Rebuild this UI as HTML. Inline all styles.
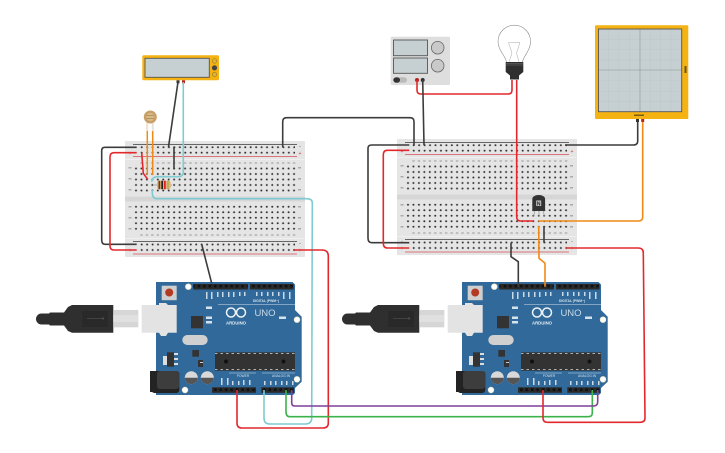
<!DOCTYPE html>
<html><head><meta charset="utf-8"><style>
html,body{margin:0;padding:0;background:#fff;width:725px;height:453px;overflow:hidden}
svg{display:block}
text{font-family:"Liberation Sans",sans-serif}
.w{fill:none;stroke-width:1.6;stroke-linejoin:round;stroke-linecap:butt}
.k{stroke:#3c3c3c}.r{stroke:#e2282d}.c{stroke:#7fcbd3}.o{stroke:#ef8a17}.g{stroke:#3cb34a}.p{stroke:#7f3f98}
</style></head><body>
<svg width="725" height="453" viewBox="0 0 725 453" xmlns="http://www.w3.org/2000/svg">
<defs>
<pattern id="rail" x="14" y="3.5" width="5.45" height="5.45" patternUnits="userSpaceOnUse">
<circle cx="2.7" cy="2.75" r="1" fill="#333"/>
</pattern>
<pattern id="main" x="8.25" y="24.75" width="5.45" height="5.5" patternUnits="userSpaceOnUse">
<circle cx="2.75" cy="2.75" r="1" fill="#333"/>
</pattern>
<pattern id="main2" x="8.25" y="63" width="5.45" height="5.5" patternUnits="userSpaceOnUse">
<circle cx="2.75" cy="2.75" r="1" fill="#333"/>
</pattern>
<pattern id="rail2" x="14" y="100.75" width="5.45" height="5.5" patternUnits="userSpaceOnUse">
<circle cx="2.7" cy="2.75" r="1" fill="#333"/>
</pattern>
<pattern id="lab" x="8.25" y="20" width="5.45" height="4" patternUnits="userSpaceOnUse">
<rect x="1.6" y="1" width="2.4" height="2" fill="#bdbdbd"/>
</pattern>
<pattern id="hdr" x="0" y="0" width="5.45" height="5.45" patternUnits="userSpaceOnUse">
<rect x="1.4" y="1.4" width="2.7" height="2.7" fill="#111"/>
</pattern>
<pattern id="grid" x="598.5" y="29" width="10.4" height="10.4" patternUnits="userSpaceOnUse">
<path d="M10.4 0V10.4M0 10.4H10.4" fill="none" stroke="#b3bec1" stroke-width=".5"/>
</pattern>

<g id="bb">
<rect width="180" height="116" rx="1" fill="#e5e5e5"/>
<rect y="18" width="180" height="1" fill="#efefef"/>
<rect y="97" width="180" height="1" fill="#efefef"/>
<rect y="55.5" width="180" height="5" fill="#d6d6d6"/>
<rect x="8" y="3" width="164" height="1" fill="#666"/>
<rect x="8" y="15" width="164" height="1" fill="#d9757a"/>
<rect x="8" y="100" width="164" height="1" fill="#666"/>
<rect x="8" y="112.5" width="164" height="1" fill="#d9757a"/>
<rect x="14" y="3.5" width="156" height="11" fill="url(#rail)"/>
<rect x="14" y="100.75" width="156" height="11" fill="url(#rail2)"/>
<rect x="8.25" y="24.75" width="163.5" height="27.5" fill="url(#main)"/>
<rect x="8.25" y="63" width="163.5" height="27.5" fill="url(#main2)"/>
<rect x="13.7" y="20" width="158" height="4" fill="url(#lab)"/>
<rect x="13.7" y="91" width="158" height="4" fill="url(#lab)"/>
<g fill="#aaa"><rect x="3.5" y="26" width="3" height="1.5"/><rect x="3.5" y="37" width="3" height="1.5"/><rect x="3.5" y="48" width="3" height="1.5"/><rect x="3.5" y="65" width="3" height="1.5"/><rect x="3.5" y="76" width="3" height="1.5"/><rect x="3.5" y="87" width="3" height="1.5"/><rect x="173" y="26" width="3" height="1.5"/><rect x="173" y="37" width="3" height="1.5"/><rect x="173" y="48" width="3" height="1.5"/><rect x="173" y="65" width="3" height="1.5"/><rect x="173" y="76" width="3" height="1.5"/><rect x="173" y="87" width="3" height="1.5"/></g>
<g font-size="5" text-anchor="middle"><text x="5" y="14" fill="#d33">+</text><text x="175" y="14" fill="#d33">+</text><text x="5" y="111" fill="#d33">+</text><text x="175" y="111" fill="#d33">+</text><text x="5" y="7" fill="#444">-</text><text x="175" y="7" fill="#444">-</text><text x="5" y="104" fill="#444">-</text><text x="175" y="104" fill="#444">-</text></g>
</g>

<g id="ard">
<path d="M41.500 313.500H49L50 312.500H64L68 307L72 305H113.300V332.700H72L68 331L64 325.500H50L49 324.500H41.500A5.500 5.500 0 0 1 41.500 313.500z" fill="#2f2f2f"/>
<rect x="82" y="311" width="26" height="16" fill="#292929"/>
<path d="M87 318.500H102" stroke="#4a4a4a" stroke-width=".8"/>
<circle cx="103" cy="318.500" r="1.200" fill="#4a4a4a"/>
<rect x="113.300" y="310" width="25" height="17.300" fill="#d6d6d6"/>
<rect x="113.300" y="315" width="25" height="7" fill="#e0e0e0"/>
<path d="M156 282H292.500L295 284.500V310L301.700 316.700V381.700L295 388V393L293 395H156z" fill="#31699a"/>
<path d="M150 371H176a3 3 0 0 1 3.300 3V390a3 3 0 0 1-3 3H154l-2-1H150z" fill="#232323"/>
<rect x="157" y="371" width="22" height="18" rx="3" fill="#3d3d3d"/>
<path d="M159 303V305H141.700V332.700H159L161 336H166L168 332.700H176.700V305H168L166 303z" fill="#e3e3e3"/>
<rect x="161.700" y="285.700" width="15" height="14.500" fill="#cfcfcf"/>
<circle cx="169.200" cy="292.500" r="4" fill="#b33a22"/>
<g fill="#fff" stroke="#e8e2bf" stroke-width=".6"><circle cx="188.300" cy="286.700" r="2.900"/><circle cx="297" cy="319.700" r="2.900"/><circle cx="297" cy="379.300" r="2.900"/><circle cx="185" cy="390" r="2.900"/></g>
<rect x="193.300" y="284" width="54.500" height="5.500" fill="#2a2a2a"/>
<rect x="193.300" y="284" width="54.500" height="5.500" fill="url(#hdr)"/>
<rect x="250" y="284" width="43.500" height="5.500" fill="#2a2a2a"/>
<rect x="250" y="284" width="43.500" height="5.500" fill="url(#hdr)"/>
<rect x="212" y="387.300" width="44" height="5.500" fill="#2a2a2a"/>
<rect x="212" y="387.300" width="44" height="5.500" fill="url(#hdr)"/>
<rect x="261.300" y="387.300" width="32.700" height="5.500" fill="#2a2a2a"/>
<rect x="261.300" y="387.300" width="32.700" height="5.500" fill="url(#hdr)"/>
<rect x="215" y="352.300" width="80" height="18.400" fill="#333"/>
<path d="M215 353.500H295M215 369.500H295" stroke="#ddd" stroke-width=".8" stroke-dasharray="2.500 3"/>
<circle cx="226" cy="361.500" r="2" fill="#111"/><circle cx="283.500" cy="361.500" r="2" fill="#111"/>
<rect x="191" y="316" width="12" height="12.300" fill="#333"/>
<rect x="192.300" y="350" width="6.700" height="6.700" fill="#333"/>
<rect x="182.300" y="335" width="25.400" height="10" rx="5" fill="#d0d0d0"/>
<rect x="163" y="356" width="5" height="9" fill="#ddd"/>
<rect x="167" y="352.300" width="7" height="14.400" fill="#333"/>
<rect x="198" y="360" width="5" height="7" fill="#333"/>
<g fill="#ddd"><rect x="174" y="353" width="4" height="2"/><rect x="174" y="358" width="4" height="2"/><rect x="174" y="363" width="4" height="2"/></g>
<rect x="200" y="362" width="3" height="1" fill="#ccc"/>
<g><circle cx="191.300" cy="377.700" r="6.500" fill="#d9d9d9"/><path d="M184.800 377.700a6.500 6.500 0 0 0 13 0z" fill="#555"/><circle cx="207.300" cy="377.700" r="6.500" fill="#d9d9d9"/><path d="M200.800 377.700a6.500 6.500 0 0 0 13 0z" fill="#555"/></g>
<g fill="none" stroke="#eef3f6" stroke-width="1.500"><circle cx="231" cy="312.500" r="4.500"/><circle cx="241" cy="312.500" r="4.500"/></g>
<text x="236" y="324.500" font-size="4.300" font-weight="bold" fill="#e6eef4" text-anchor="middle">ARDUINO</text>
<text x="265" y="316" font-size="9.500" fill="#c9dbe8" text-anchor="middle">UNO</text>
<text x="266" y="302" font-size="3.300" font-weight="bold" fill="#d5e2ec" text-anchor="middle">DIGITAL (PWM~)</text>
<text x="243" y="377" font-size="3.300" fill="#d5e2ec" text-anchor="middle">POWER</text>
<text x="281" y="377" font-size="3.300" fill="#d5e2ec" text-anchor="middle">ANALOG IN</text>
<path d="M218 304.500H295M229 373H256M262 373H295" stroke="#d5e2ec" stroke-width=".5"/>
<g fill="#d5e2ec"><rect x="206" y="306.500" width="6" height="2.500"/><rect x="206" y="316.500" width="6" height="2.500"/><rect x="206" y="321" width="6" height="2.500"/><rect x="279" y="316.500" width="7" height="2.500"/></g>
<g fill="#cbdbe6"><rect x="206" y="292" width="1.500" height="7"/><rect x="211" y="292" width="1.500" height="7"/><rect x="217" y="292" width="1.500" height="5"/><rect x="222" y="292" width="1.500" height="5"/><rect x="228" y="292" width="1.500" height="5"/><rect x="233" y="292" width="1.500" height="5"/><rect x="239" y="292" width="1.500" height="4"/><rect x="244" y="292" width="1.500" height="4"/><rect x="256" y="292" width="1.500" height="4"/><rect x="261" y="292" width="1.500" height="4"/><rect x="267" y="292" width="1.500" height="4"/><rect x="272" y="292" width="1.500" height="4"/><rect x="278" y="292" width="1.500" height="4"/><rect x="283" y="292" width="1.500" height="7"/><rect x="289" y="292" width="1.500" height="7"/><rect x="221" y="378" width="1.500" height="7"/><rect x="227" y="378" width="1.500" height="7"/><rect x="232" y="381" width="1.500" height="4"/><rect x="238" y="381" width="1.500" height="4"/><rect x="243" y="380" width="1.500" height="5"/><rect x="249" y="380" width="1.500" height="5"/><rect x="264" y="381" width="1.500" height="4"/><rect x="270" y="381" width="1.500" height="4"/><rect x="275" y="381" width="1.500" height="4"/><rect x="281" y="381" width="1.500" height="4"/><rect x="286" y="381" width="1.500" height="4"/><rect x="292" y="381" width="1.500" height="4"/></g>
</g>
</defs>

<use href="#bb" x="125" y="141"/>
<use href="#bb" x="397" y="139"/>
<use href="#ard"/>
<use href="#ard" x="306"/>

<!-- multimeter -->
<rect x="142.300" y="55.300" width="76.700" height="25" rx="1.500" fill="#f4b213"/>
<rect x="145" y="58.300" width="64.300" height="19" fill="#c6d0d2" stroke="#555" stroke-width=".9"/>
<circle cx="214.500" cy="61" r="2.300" fill="#e0b030" stroke="#8a7020" stroke-width=".5"/>
<circle cx="214.500" cy="67.800" r="2.600" fill="#444"/>
<circle cx="214.500" cy="74.500" r="2.300" fill="#e0b030" stroke="#8a7020" stroke-width=".5"/>
<rect x="176.500" y="80.300" width="3" height="3" fill="#333"/>
<rect x="182" y="80.300" width="3" height="3" fill="#b3211f"/>

<!-- PSU -->
<rect x="390.700" y="36.700" width="59.300" height="48.300" rx="1" fill="#dedede"/>
<rect x="393.500" y="40" width="34" height="15.700" fill="#c6d0d2" stroke="#555" stroke-width=".9"/>
<rect x="393.500" y="58" width="34" height="15.300" fill="#c6d0d2" stroke="#555" stroke-width=".9"/>
<circle cx="437.700" cy="47.700" r="6.300" fill="#c9c9c9" stroke="#666" stroke-width=".8"/>
<circle cx="437.700" cy="65.700" r="6.300" fill="#c9c9c9" stroke="#666" stroke-width=".8"/>
<rect x="393.500" y="77.300" width="13.500" height="5.500" rx="2.700" fill="#bbb"/>
<ellipse cx="396.700" cy="80" rx="3.400" ry="2.800" fill="#333"/>
<circle cx="417" cy="80" r="2" fill="#b3211f"/>
<circle cx="422.700" cy="80" r="2" fill="#333"/>

<!-- lamp -->
<path d="M507 63C505 55 498 50 498 41.500a16.300 16.300 0 0 1 32.600 0C530.600 50 524 55 522 63z" fill="#fff" stroke="#8d8d8d" stroke-width=".6"/>
<path d="M509 62L512 53 508.500 42.500H520L516.500 53 519 62" fill="none" stroke="#a8a8a8" stroke-width=".5"/>
<path d="M505.700 62H523.300V72L519 75.500V79.500H510V75.500L505.700 72z" fill="#2f2f2f"/>
<path d="M506 63.500H523M506 65H523" stroke="#888" stroke-width=".4"/>

<!-- oscilloscope -->
<rect x="595" y="25.300" width="93.300" height="93.700" rx="1" fill="#f4b213"/>
<rect x="598.500" y="29" width="83.200" height="82.700" fill="#c6d0d2"/>
<rect x="598.500" y="29" width="83.200" height="82.700" fill="url(#grid)"/>
<path d="M640 29V111.700M598.500 70H681.700" stroke="#8f9a9d" stroke-width=".6"/>
<rect x="598.500" y="29" width="83.200" height="82.700" fill="none" stroke="#555" stroke-width=".9"/>
<rect x="684.500" y="66" width="2" height="7" fill="#6b5410"/>
<rect x="634" y="114.500" width="10" height="1.500" fill="#7a5e10"/>
<rect x="636" y="119" width="3" height="3" fill="#333"/>
<rect x="641.200" y="119" width="3" height="3" fill="#b3211f"/>

<!-- LDR -->
<path d="M147.300 123V175M152.700 123V175" fill="none" stroke="#ef8a17" stroke-width="1.500"/>
<path d="M147.300 122V131M152.700 122V131" fill="none" stroke="#e6e6e6" stroke-width="1.300"/>
<circle cx="150.300" cy="117" r="6.500" fill="#c9a068"/>
<circle cx="150.300" cy="117" r="4" fill="#d9bb8a"/>
<path d="M146.500 115.500H154M146.500 118.500H154" stroke="#96703c" stroke-width=".6"/>

<!-- resistor -->
<path d="M153 185H172" stroke="#aaa" stroke-width="1"/>
<rect x="157" y="180.700" width="13.700" height="8.500" rx="2.500" fill="#d7b77e"/>
<rect x="158.500" y="180.700" width="1.700" height="8.500" fill="#6d3d1a"/><rect x="161.300" y="180.700" width="1.700" height="8.500" fill="#222"/><rect x="164" y="180.700" width="1.700" height="8.500" fill="#d22"/><rect x="167.500" y="180.700" width="1" height="8.500" fill="#b99a3a"/>

<!-- transistor -->
<path d="M533.500 216.500L535 210M539 216.500V210M544.500 216.500L543 210" stroke="#999" stroke-width=".7" fill="none"/>
<path d="M532.300 199a6.400 4 0 0 1 12.800 0V211H532.300z" fill="#333"/>
<rect x="536.200" y="200.500" width="5" height="5.500" fill="#c9c9c9"/>
<text x="538.700" y="205.500" font-size="5" font-weight="bold" fill="#222" text-anchor="middle">N</text>

<!-- wires -->
<g>
<path class="w k" d="M178 82L168.500 147"/>
<path class="w k" d="M174 146.700V169.300"/>
<path class="w k" d="M136.700 147.300H105Q101.700 147.300 101.700 150.700V240Q101.700 244.300 105 244.300H136.700"/>
<path class="w r" d="M136.700 152.700H114Q110 152.700 110 157V246Q110 250 114 250H136.700"/>
<path class="w r" d="M141.700 152.700L143.300 173.300L147.700 179.300"/>
<path class="w c" d="M183.300 82V171.700Q183.300 176.700 178 176.700H158Q152 176.700 151.700 181.700"/>
<path class="w c" d="M152.300 190V193Q152.300 198.700 157 198.700H306.700Q312.300 198.700 312.300 203L311.700 418Q311.700 424 305 424H270Q264 424 264 418V390"/>
<path class="w k" d="M282.700 147.300V121.700Q282.700 117.700 286.700 117.700H410Q414 117.700 414 121.700V145"/>
<path class="w k" d="M201.700 244.300L211.700 283.300"/>
<path class="w r" d="M293 250H322Q328.300 250 328.300 256V423Q328.300 428 323 428H241.700Q237 428 237 423V390"/>
<path class="w g" d="M286 390V411.700Q286 416.700 290 416.700H588Q592.300 416.700 592.300 413V390"/>
<path class="w p" d="M291.700 390V402.700Q291.700 406 295 406H593.300Q597.700 406 597.700 401.700V390"/>
<path class="w r" d="M543 390V418Q543 422.300 547.300 422.300H640Q645 422.300 645 418L643.300 253Q643.300 248 638.300 248H565.700"/>
<path class="w k" d="M409.300 145H371.700Q368 145 368 148.300V238Q368 242.700 371.700 242.700H409.300"/>
<path class="w r" d="M409.300 150.300H387.300Q383.300 150.300 383.300 155V243Q383.300 248 387.300 248H409.300"/>
<path class="w k" d="M565 145H633.300Q637.700 145 637.700 141V121.700"/>
<path class="w o" d="M642.700 121.700V216.700Q642.700 221 638.300 221H538.300"/>
<path class="w r" d="M516.700 80V216.700Q516.700 221 520.700 221H534"/>
<path class="w r" d="M417 80V90Q417 94 420.700 94H508.300Q512 94 512 90V80"/>
<path class="w k" d="M422.700 80L424 145"/>
<path class="w o" d="M538.700 226L539 258.300L545 263.300V286.700"/>
<path class="w k" d="M511 242.700V256.700L518.300 261.700V286.700"/>
<path class="w k" d="M544 226V242.700"/>
</g>
</svg>
</body></html>
